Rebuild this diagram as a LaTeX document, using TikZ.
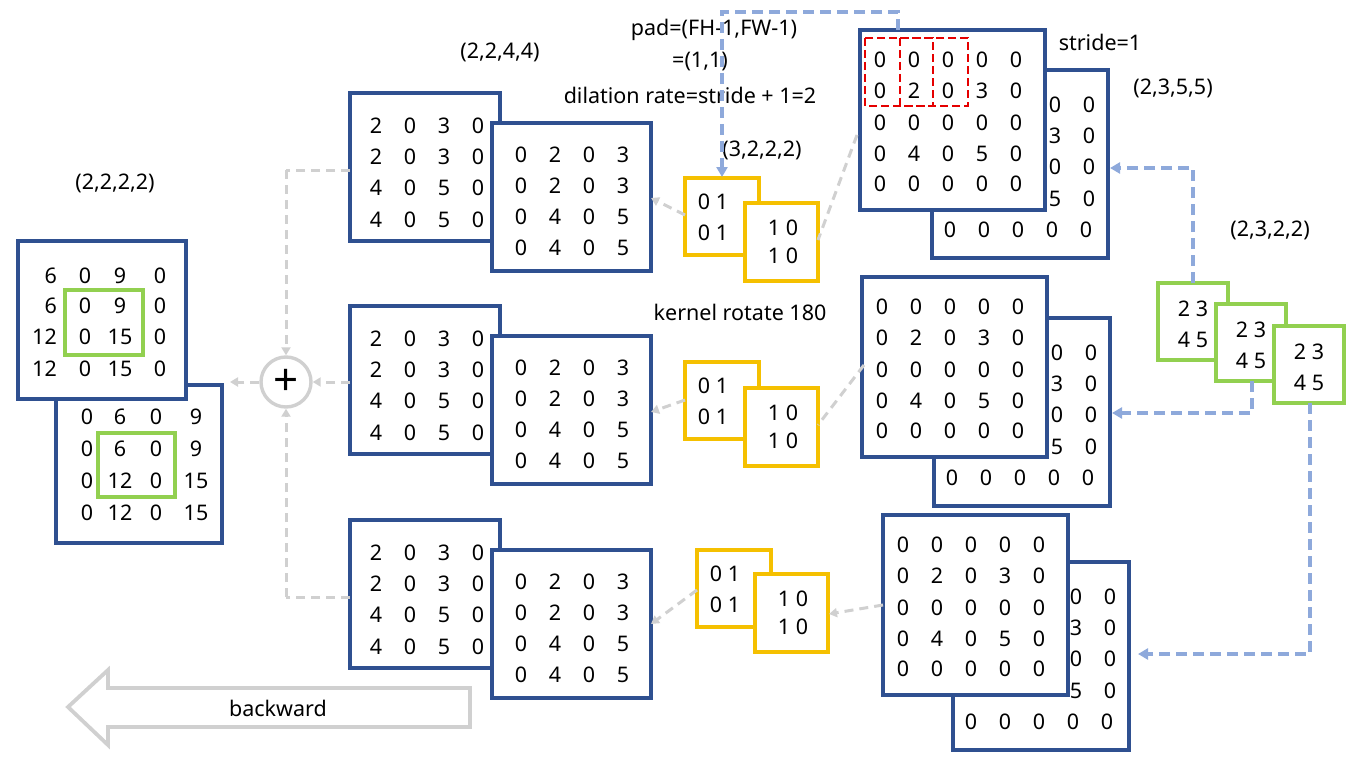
\documentclass[tikz,border=0pt]{standalone}
\usepackage{fontspec}
\setmainfont{Noto Sans}
\usetikzlibrary{arrows.meta}
\definecolor{navy}{HTML}{2F5090}
\definecolor{ylw}{HTML}{F5C000}
\definecolor{grn}{HTML}{92D050}
\definecolor{lblue}{HTML}{8EA9DB}
\definecolor{lgray}{HTML}{D0D0D0}
\begin{document}
\begin{tikzpicture}[x=1pt,y=-1pt,
  every node/.style={font=\fontsize{21.5}{24}\selectfont,inner sep=0pt},
  mat/.style={draw=navy,line width=3.4pt,fill=white},
  ker/.style={draw=ylw,line width=3.4pt,fill=white},
  flt/.style={draw=grn,line width=3.4pt,fill=white},
  sel/.style={draw=grn,line width=3.4pt},
  red/.style={draw=red!90!black,line width=2.8pt,dash pattern=on 8pt off 4pt},
  bl/.style={draw=lblue,line width=3.4pt,dash pattern=on 11pt off 6pt,-{Triangle[length=10pt,width=11pt]}},
  gr/.style={draw=lgray,line width=3pt,dash pattern=on 9pt off 6pt,-{Triangle[length=8pt,width=9pt]}},
  grn/.style={draw=lgray,line width=3pt,dash pattern=on 9pt off 6pt}]
\useasboundingbox (0,0) rectangle (1357,757);
\newcommand{\bx}[6]{\path[#6] (#2,#3) rectangle (#4,#5); \coordinate (#1) at ({(#2+#4)/2},{(#3+#5)/2});}
\newcommand{\rw}[3]{\foreach \v [count=\i] in {#3} {\node at ({#1+(\i-1)*34},#2) {\v};}}
% ---------- output
\node at (115,183) {(2,2,2,2)};
\bx{ob}{56}{385}{222}{543}{mat}
\foreach \y/\a/\b/\c/\d in {417/0/6/0/9,449/0/6/0/9,481/0/12/0/15,513/0/12/0/15}{
  \node at (87,\y) {\a};\node at (120,\y) {\b};\node at (156,\y) {\c};\node at (196,\y) {\d};}
\path[sel] (98,433) rectangle (175,497);
\bx{of}{18}{241}{186}{399}{mat}
\foreach \y/\a/\b/\c/\d in {276/6/0/9/0,306/6/0/9/0,337/12/0/15/0,369/12/0/15/0}{
  \node[anchor=east] at (57,\y) {\a};\node at (85,\y) {\b};\node at (120,\y) {\c};\node at (160,\y) {\d};}
\path[sel] (65,290) rectangle (143,355);
% ---------- plus
\node[circle,draw=lgray,line width=3.4pt,minimum size=50pt,font=\fontsize{44}{44}\selectfont\bfseries] (plus) at (286,382) {+};
\coordinate (ofr) at (230,382);
\draw[gr] (plus.west) -- (ofr);
% ---------- middle matrices
\foreach \k/\o in {1/0,2/213,3/427}{
  \bx{mf\k}{350}{93+\o}{500}{241+\o}{mat}
  \rw{376}{126+\o}{2,0,3,0}\rw{376}{157+\o}{2,0,3,0}\rw{376}{188+\o}{4,0,5,0}\rw{376}{220+\o}{4,0,5,0}
  \bx{mb\k}{492}{123+\o}{651}{271+\o}{mat}
  \rw{521}{155+\o}{0,2,0,3}\rw{521}{186+\o}{0,2,0,3}\rw{521}{217+\o}{0,4,0,5}\rw{521}{248+\o}{0,4,0,5}
}
\node at (500,52) {(2,2,4,4)};
\draw[grn] (350,170) -- (286,170);
\draw[gr] (286,170) -- (plus.north);
\draw[gr] (350,382) -- (plus.east);
\draw[grn] (350,597) -- (286,597);
\draw[gr] (286,597) -- (plus.south);
% ---------- kernels
\foreach \k/\xa/\ya/\xb/\yb in {1/685/178/745/203,2/685/362/745/388,3/697/550/755/574}{
  \bx{kf\k}{\xa}{\ya}{\xa+74}{\ya+77}{ker}
  \node at (\xa+28,\ya+24) {0 1};\node at (\xa+28,\ya+55) {0 1};
  \bx{kb\k}{\xb}{\yb}{\xb+73}{\yb+78}{ker}
  \node at (\xb+38,\yb+25) {1 0};\node at (\xb+38,\yb+53) {1 0};
}
\draw[gr] (685,215) -- (651,198);
\draw[gr] (685,400) -- (651,412);
\draw[gr] (697,590) -- (651,624);
\node at (762,150) {(3,2,2,2)};
\node at (740,312) {kernel rotate 180};
\node at (690,95) {dilation rate=stride + 1=2};
\node at (714,30) {pad=(FH-1,FW-1)};
\node at (700,62) {=(1,1)};
% ---------- padded inputs
\foreach \k/\xa/\ya/\xb/\yb in {1/860/30/932/70,2/862/277/934/318,3/883/515/953/562}{
  \bx{pb\k}{\xb}{\yb}{\xb+176}{\yb+188}{mat}
  \foreach \y/\a/\b in {35/0/0,66/3/0,97/0/0,129/5/0}{\node at (\xb+123,\yb+\y) {\a};\node at (\xb+157,\yb+\y) {\b};}
  \rw{\xb+18}{\yb+160}{0,0,0,0,0}
  \bx{pf\k}{\xa}{\ya}{\xa+185}{\ya+180}{mat}
  \rw{\xa+20}{\ya+30}{0,0,0,0,0}\rw{\xa+20}{\ya+61}{0,2,0,3,0}\rw{\xa+20}{\ya+93}{0,0,0,0,0}
  \rw{\xa+20}{\ya+124}{0,4,0,5,0}\rw{\xa+20}{\ya+154}{0,0,0,0,0}
}
\path[red] (865,38) rectangle (933,106);
\path[red] (900,38) rectangle (968,106);
\node at (1100,42) {stride=1};
\node at (1173,88) {(2,3,5,5)};
\draw[grn] (857,135) -- (818,240);
\draw[grn] (864,365) -- (818,425);
\draw[gr] (883,605) -- (829,614);
% ---------- filters
\node at (1270,230) {(2,3,2,2)};
\foreach \k/\xa/\ya in {1/1158/283,2/1216/304,3/1274/326}{
  \bx{g\k}{\xa}{\ya}{\xa+70}{\ya+77}{flt}
  \node at (\xa+35,\ya+26) {2 3};\node at (\xa+35,\ya+57) {4 5};
}
% ---------- blue arrows
\draw[bl] (898,30) -- (898,12) -- (722,12) -- (722,177);
\draw[bl] (1193,283) -- (1193,168) -- (1110,168);
\draw[bl] (1252,381) -- (1252,413) -- (1112,413);
\draw[bl] (1310,403) -- (1310,654) -- (1138,654);
% ---------- backward arrow
\draw[lgray,line width=3.8pt,fill=white] (470,688) -- (108,688) -- (108,670) -- (68,707) -- (108,745) -- (108,727) -- (470,727) -- cycle;
\node at (278,708) {backward};
\end{tikzpicture}
\end{document}
